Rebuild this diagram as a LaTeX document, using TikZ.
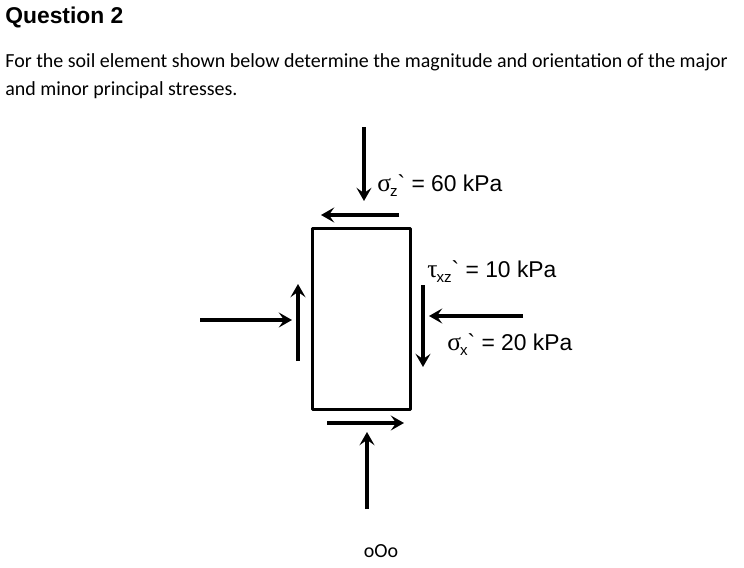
\documentclass[tikz,border=0pt]{standalone}
\usepackage{fontspec}
\setmainfont{Carlito}
\newfontfamily\labelfont{Liberation Sans}
\newfontfamily\greekfont{Liberation Serif}
\usetikzlibrary{arrows.meta}
\newcommand{\stresslabel}[3]{{\labelfont{\greekfont\fontsize{14.5}{14}\selectfont #1}\kern-0.6pt\raisebox{-3.4pt}{\fontsize{8.6}{10}\selectfont #2}` = #3 kPa}}
\tikzset{
  force/.style={line width=1.8pt,-{Stealth[length=7.5pt,width=8.5pt,inset=3pt]}},
  element/.style={draw,line width=1.8pt,minimum width=56.1pt,minimum height=103.2pt,inner sep=0pt,line join=round},
  stress/.style={inner sep=0pt,anchor=base west,font=\fontsize{13}{14}\selectfont},
  body/.style={inner sep=0pt,anchor=base west,font=\fontsize{11.37}{13}\selectfont}
}
\begin{document}
\begin{tikzpicture}[x=0.02cm,y=-0.02cm]
  \useasboundingbox (0,0) rectangle (744,568);
  % text
  \node [inner sep=0pt,anchor=base west,font=\labelfont\bfseries\fontsize{13}{15}\selectfont] (title) at (5,23) {Question 2};
  \node [body] (line1) at (5,67) {For the soil element shown below determine the magnitude and orientation of the major};
  \node [body] (line2) at (5,95) {and minor principal stresses.};
  \node [inner sep=0pt,font=\fontsize{11.37}{13}\selectfont] (end) at (381,551) {oOo};
  % soil element
  \node [element] (soil) at (361.5,319) {};
  % free ends of the arrows
  \coordinate (ztop) at (364,127);
  \coordinate (zend) at (364,201);
  \coordinate (ttop) at (399,215);
  \coordinate (ttopend) at (321,215);
  \coordinate (tright) at (423,285);
  \coordinate (trightend) at (423,367);
  \coordinate (xright) at (523,316);
  \coordinate (xrightend) at (429,316);
  \coordinate (xleft) at (200,320);
  \coordinate (xleftend) at (292,320);
  \coordinate (tleft) at (298,361);
  \coordinate (tleftend) at (298,284);
  \coordinate (tbot) at (327,423);
  \coordinate (tbotend) at (404,423);
  \coordinate (zbot) at (367,509);
  \coordinate (zbotend) at (367,432);
  \draw [force] (ztop) -- (zend);
  \draw [force] (ttop) -- (ttopend);
  \draw [force] (tright) -- (trightend);
  \draw [force] (xright) -- (xrightend);
  \draw [force] (xleft) -- (xleftend);
  \draw [force] (tleft) -- (tleftend);
  \draw [force] (tbot) -- (tbotend);
  \draw [force] (zbot) -- (zbotend);
  % labels
  \node [stress] (sigz) at (377,191) {\stresslabel{σ}{z}{60}};
  \node [stress] (tauxz) at (427,277) {\stresslabel{τ}{xz}{10}};
  \node [stress] (sigx) at (447,350) {\stresslabel{σ}{x}{20}};
\end{tikzpicture}
\end{document}
